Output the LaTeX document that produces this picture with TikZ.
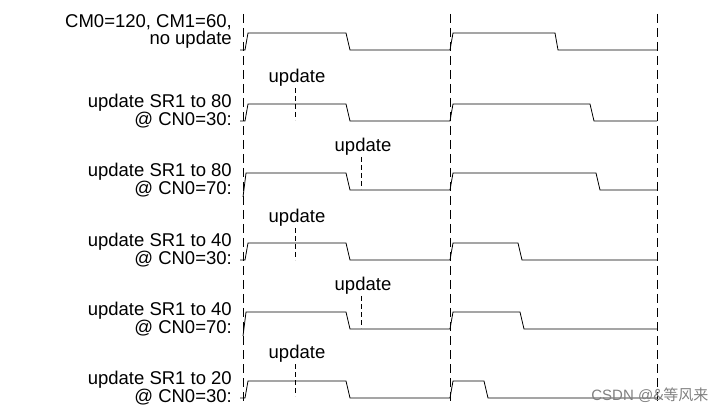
\documentclass[tikz,border=0pt]{standalone}
\usepackage{fontspec}
\setmainfont{Liberation Sans}
\newfontfamily\cjk{Noto Sans CJK SC}
\begin{document}
\begin{tikzpicture}[x=1pt,y=-1pt,
  wave/.style={line width=0.8pt},
  guide/.style={line width=0.7pt,dash pattern=on 9pt off 5pt},
  lbl/.style={font=\fontsize{18.5}{17}\selectfont,align=right,anchor=east,inner sep=0pt},
  up/.style={font=\fontsize{18.5}{13}\selectfont,inner sep=0pt}]
\useasboundingbox (0,0) rectangle (722,411);
\foreach \x/\n in {243/g1,450/g2,657/g3}{
  \coordinate (\n t) at (\x,14); \coordinate (\n b) at (\x,402);
  \draw[guide] (\n t) -- (\n b);}
% labels
\node[lbl] (l1) at (232,31) {CM0=120, CM1=60,\\no update};
\node[lbl] (l2) at (232,111) {update SR1 to 80\\@ CN0=30:};
\node[lbl] (l3) at (232,180) {update SR1 to 80\\@ CN0=70:};
\node[lbl] (l4) at (232,250) {update SR1 to 40\\@ CN0=30:};
\node[lbl] (l5) at (232,319) {update SR1 to 40\\@ CN0=70:};
\node[lbl] (l6) at (232,388) {update SR1 to 20\\@ CN0=30:};
% waves
\draw[wave] (240,50)--(245,50)--(248,33)--(346,33)--(350,50)--(450,50)--(453,33)--(555,33)--(558,50)--(657,50);
\draw[wave] (240,121)--(245,121)--(248,104)--(346,104)--(350,121)--(450,121)--(453,104)--(590,104)--(594,121)--(657,121);
\draw[wave] (243,197)--(246,173)--(346,173)--(350,190)--(450,190)--(453,173)--(596,173)--(600,190)--(657,190);
\draw[wave] (240,260)--(245,260)--(248,243)--(346,243)--(350,260)--(450,260)--(453,243)--(518,243)--(522,260)--(657,260);
\draw[wave] (243,336)--(246,312)--(346,312)--(350,329)--(450,329)--(453,312)--(520,312)--(524,329)--(657,329);
\draw[wave] (240,398)--(245,398)--(248,381)--(346,381)--(350,398)--(450,398)--(453,381)--(484,381)--(488,398)--(657,398);
% update markers
\foreach \x/\y/\n in {297/78/u2,363/147/u3,297/218/u4,363/286/u5,297/354/u6}{
  \node[up] (\n) at (\x,\y) {update};
  \coordinate (\n e) at (\x-2,\y+42);
  \draw[guide,dash pattern=on 5pt off 3pt] (\x-2,\y+10) -- (\n e);}
\node[font=\fontsize{15}{16}\selectfont,text=gray,anchor=east] (wm) at (712,395) {CSDN @\cjk\&等风来};
\end{tikzpicture}
\end{document}
